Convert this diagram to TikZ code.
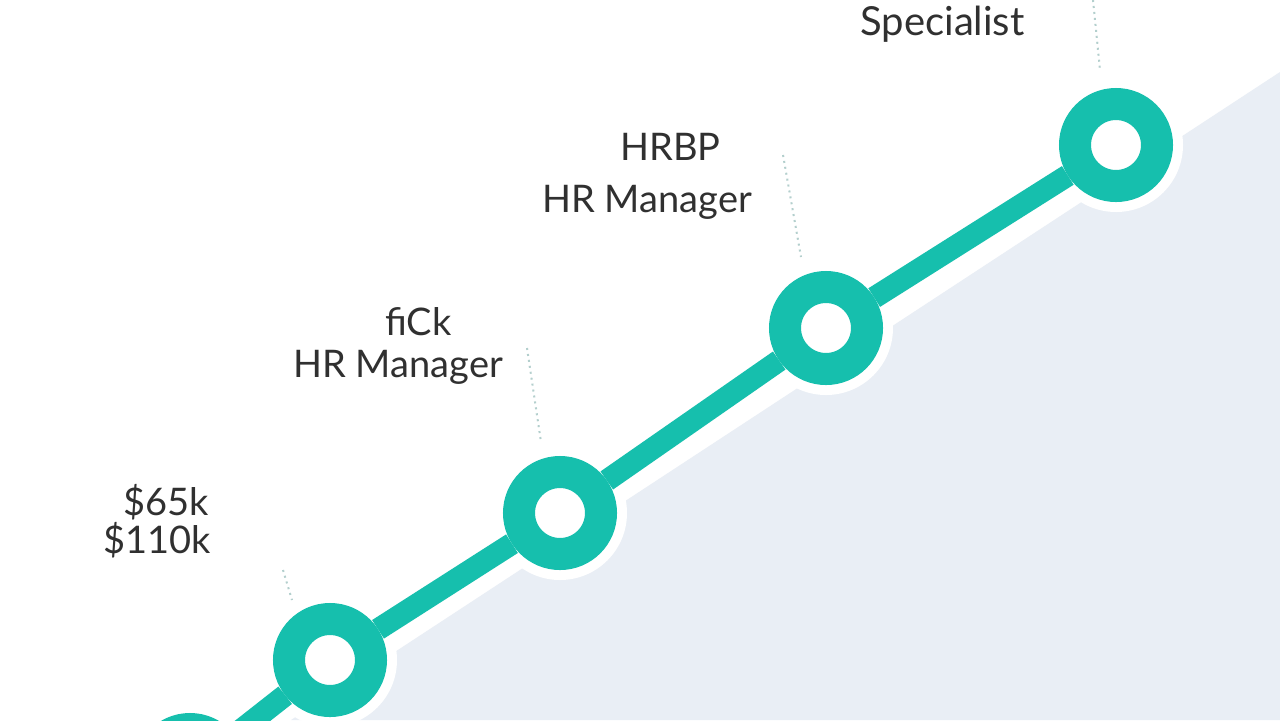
\documentclass[tikz,border=0pt]{standalone}
\usepackage{fontspec}
\setmainfont{Lato}
\definecolor{trackteal}{HTML}{16BFAD}
\definecolor{areagrey}{HTML}{E9EEF5}
\definecolor{leadgrey}{HTML}{B3CFCD}
\definecolor{labelgrey}{HTML}{303030}

\tikzstyle{ring} = [circle, draw=trackteal, fill=white, line width=16pt, inner sep=0mm, minimum size=41pt]
\tikzstyle{halo} = [circle, fill=white, inner sep=0mm, minimum size=67pt]
\tikzstyle{track} = [trackteal, line width=11pt]
\tikzstyle{lead} = [leadgrey, dotted, line width=1pt]
\tikzstyle{lbl} = [anchor=base west, inner sep=0mm, text=labelgrey, font=\fontsize{19}{23}\selectfont]

\begin{document}
\begin{tikzpicture}[x=0.5pt, y=-0.5pt]
		\useasboundingbox (0,0) rectangle (1280,720);
		\clip (0,0) rectangle (1280,720);
		\fill[white] (0,0) rectangle (1280,720);
		% shaded area under the path
		\fill[areagrey] (291,720) -- (1280,72) -- (1280,720) -- cycle;
		\foreach \n/\x/\y in {0/190/770, 1/330/660, 2/560/513, 3/826/328, 4/1116/145}
		\coordinate (p\n) at (\x,\y);
		\draw[white, line width=21pt] (p0) -- (p1) -- (p2) -- (p3) -- (p4);
		\foreach \n in {0,...,4}
		\node[halo] (h\n) at (p\n) {};
		\foreach \n in {0,...,4}
		\node[ring] (n\n) at (p\n) {};
		\foreach \a/\b in {0/1, 1/2, 2/3, 3/4}
		\draw[track] (n\a) -- (n\b);
		% dotted leaders
		\foreach \n/\xa/\ya/\xb/\yb in {1/283/570/292/600, 2/527/348/541/442, 3/783/155/801/257, 4/1093/0/1100/70} {
			\coordinate (t\n) at (\xa,\ya);
			\coordinate (b\n) at (\xb,\yb);
			\draw[lead] (t\n) -- (b\n);
		}
		% labels
		\node[lbl] (s1) at (123,515) {\$65k};
		\node[lbl] (s2) at (103,553) {\$110k};
		\node[lbl] (m1) at (385,335) {fiCk};
		\node[lbl] (m2) at (293,377) {HR Manager};
		\node[lbl] (r1) at (620,160) {HRBP};
		\node[lbl] (r2) at (542,212) {HR Manager};
		\node[lbl, font=\fontsize{20}{24}\selectfont] (sp) at (860,35) {Specialist};
	\end{tikzpicture}
\end{document}
